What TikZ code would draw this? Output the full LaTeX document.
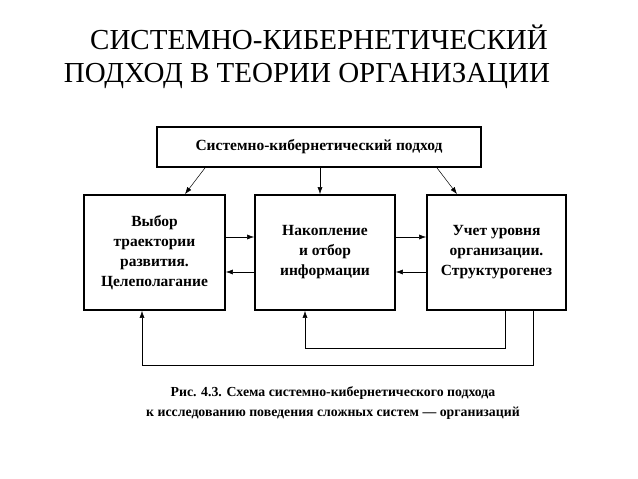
\documentclass[tikz,border=0pt]{standalone}
\usepackage{fontspec}
\setmainfont{Liberation Serif}
\usetikzlibrary{arrows.meta}
\begin{document}
\begin{tikzpicture}[x=1pt,y=-1pt,
 box/.style={draw,line width=1.8pt,align=center,font=\bfseries\fontsize{15.5}{20}\selectfont,inner sep=0pt},
 arr/.style={-{Latex[length=7pt,width=5pt]},line width=0.5pt}]
\useasboundingbox (0,0) rectangle (638,479);
\node[font=\fontsize{29}{30}\selectfont] (t1) at (319,37) {СИСТЕМНО-КИБЕРНЕТИЧЕСКИЙ};
\node[font=\fontsize{29}{30}\selectfont] (t2) at (307,76) {ПОДХОД В ТЕОРИИ ОРГАНИЗАЦИИ};
\node[box,minimum width=324pt,minimum height=40pt] (top) at (319,147) {Системно-кибернетический подход};
\node[box,minimum width=141pt,minimum height=115pt] (l) at (154.5,252.5) {Выбор\\траектории\\развития.\\Целеполагание};
\node[box,minimum width=140pt,minimum height=115pt] (m) at (325,252.5) {Накопление\\и отбор\\информации};
\node[box,minimum width=139pt,minimum height=115pt] (r) at (496.5,252.5) {Учет уровня\\организации.\\Структурогенез};
\draw[arr] (top.south -| 205,0) -- (l.north -| 185,0);
\draw[arr] (top.south -| 320,0) -- (l.north -| 320,0);
\draw[arr] (top.south -| 437,0) -- (r.north -| 457,0);
\draw[arr] (l.east |- 0,237) -- (m.west |- 0,237);
\draw[arr] (m.west |- 0,272) -- (l.east |- 0,272);
\draw[arr] (m.east |- 0,237) -- (r.west |- 0,237);
\draw[arr] (r.west |- 0,272) -- (m.east |- 0,272);
\coordinate (c1) at (505,348);
\coordinate (c2) at (533,365);
\draw[arr] (r.south -| c1) -- (c1) -- (305,348) -- (m.south -| 305,0);
\draw[arr] (r.south -| c2) -- (c2) -- (142,365) -- (l.south -| 142,0);
\node[font=\bfseries\fontsize{13.8}{20}\selectfont,align=center] (cap) at (333,403) {Рис. 4.3. Схема системно-кибернетического подхода\\к исследованию поведения сложных систем — организаций};
\end{tikzpicture}
\end{document}
